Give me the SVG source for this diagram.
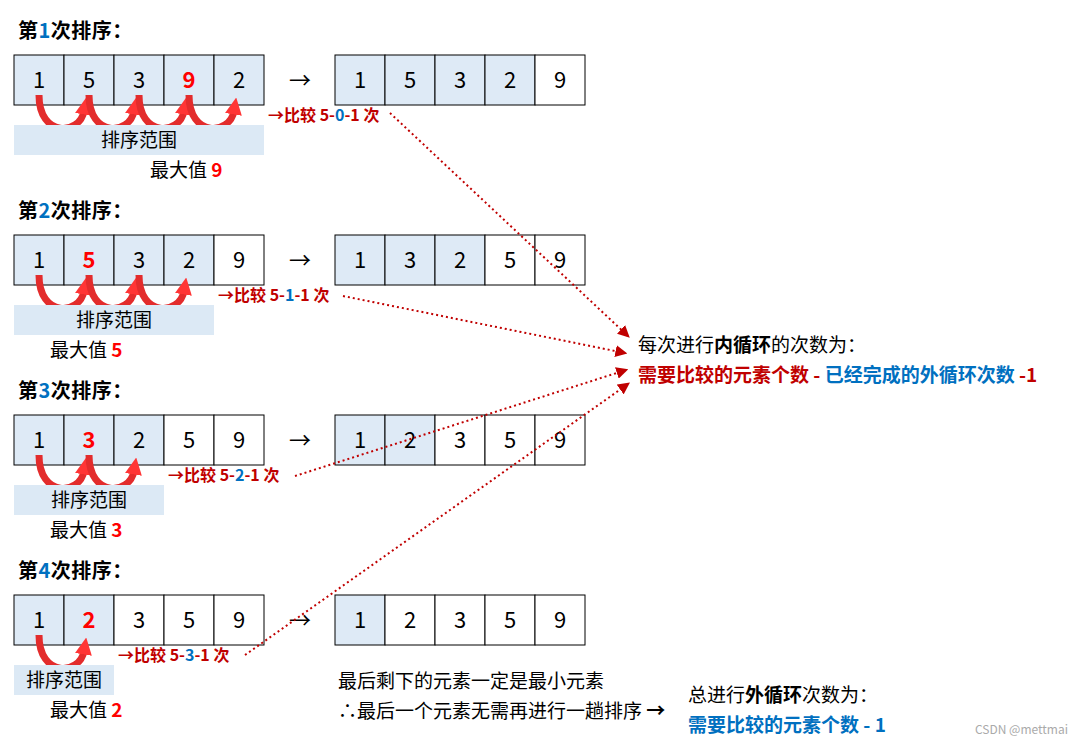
<svg xmlns="http://www.w3.org/2000/svg" width="1081" height="745" viewBox="0 0 1081 745">
<defs>
<style>
text{font-family:"Noto Sans CJK SC","Noto Sans",sans-serif;fill:#000}
.h{font-size:20px;font-weight:bold;letter-spacing:0.5px}
.b{color:#0070c0;fill:#0070c0}
.n{font-size:22px;text-anchor:middle}
.hl{fill:#ff0000;font-weight:bold}
.c{fill:#deeaf6;stroke:#000;stroke-width:1}
.w{fill:#fff;stroke:#000;stroke-width:1}
.bar{fill:#dce9f5}
.t{font-size:19px}
.cmp{font-size:16px;font-weight:bold;fill:#c00000}
.arc{fill:none;stroke:#e32c2c;stroke-width:7;marker-end:url(#ah)}
.dot{fill:none;stroke:#c00000;stroke-width:2;stroke-dasharray:2 3;marker-end:url(#dh)}
</style>
<marker id="ah" viewBox="0 0 10 10" refX="2" refY="5" markerWidth="17" markerHeight="17" orient="auto" markerUnits="userSpaceOnUse"><path d="M0,0L10,5L0,10z" fill="#ff3535"/></marker>
<marker id="dh" viewBox="0 0 10 10" refX="8" refY="5" markerWidth="12" markerHeight="12" orient="auto" markerUnits="userSpaceOnUse"><path d="M0,0L10,5L0,10z" fill="#c00000"/></marker>
</defs>

<g id="row1">
<text class="h" x="18" y="38">第<tspan class="b">1</tspan>次排序：</text>
<rect class="c" x="14" y="55" width="50" height="50"/><rect class="c" x="64" y="55" width="50" height="50"/><rect class="c" x="114" y="55" width="50" height="50"/><rect class="c" x="164" y="55" width="50" height="50"/><rect class="c" x="214" y="55" width="50" height="50"/>
<text class="n" x="39" y="88">1</text><text class="n" x="89" y="88">5</text><text class="n" x="139" y="88">3</text><text class="n hl" x="189" y="88">9</text><text class="n" x="239" y="88">2</text>
<text class="n" x="300" y="88">→</text>
<rect class="c" x="335" y="55" width="50" height="50"/><rect class="c" x="385" y="55" width="50" height="50"/><rect class="c" x="435" y="55" width="50" height="50"/><rect class="c" x="485" y="55" width="50" height="50"/><rect class="w" x="535" y="55" width="50" height="50"/>
<text class="n" x="360" y="88">1</text><text class="n" x="410" y="88">5</text><text class="n" x="460" y="88">3</text><text class="n" x="510" y="88">2</text><text class="n" x="560" y="88">9</text>
<path class="arc" d="M39,95 C39,138 80,135 84,111"/><path class="arc" d="M89,95 C89,138 130,135 134,111"/><path class="arc" d="M139,95 C139,138 180,135 184,111"/><path class="arc" d="M189,95 C189,138 230,135 234,111"/>
<rect class="bar" x="14" y="125" width="250" height="30"/>
<text class="t" x="139" y="147" text-anchor="middle">排序范围</text>
<text class="t" x="150" y="177">最大值 <tspan class="hl">9</tspan></text>
<text class="cmp" x="268" y="121">→比较 5-<tspan class="b">0</tspan>-1 次</text>
</g>

<g id="row2">
<text class="h" x="18" y="218">第<tspan class="b">2</tspan>次排序：</text>
<rect class="c" x="14" y="235" width="50" height="50"/><rect class="c" x="64" y="235" width="50" height="50"/><rect class="c" x="114" y="235" width="50" height="50"/><rect class="c" x="164" y="235" width="50" height="50"/><rect class="w" x="214" y="235" width="50" height="50"/>
<text class="n" x="39" y="268">1</text><text class="n hl" x="89" y="268">5</text><text class="n" x="139" y="268">3</text><text class="n" x="189" y="268">2</text><text class="n" x="239" y="268">9</text>
<text class="n" x="300" y="268">→</text>
<rect class="c" x="335" y="235" width="50" height="50"/><rect class="c" x="385" y="235" width="50" height="50"/><rect class="c" x="435" y="235" width="50" height="50"/><rect class="w" x="485" y="235" width="50" height="50"/><rect class="w" x="535" y="235" width="50" height="50"/>
<text class="n" x="360" y="268">1</text><text class="n" x="410" y="268">3</text><text class="n" x="460" y="268">2</text><text class="n" x="510" y="268">5</text><text class="n" x="560" y="268">9</text>
<path class="arc" d="M39,275 C39,318 80,315 84,291"/><path class="arc" d="M89,275 C89,318 130,315 134,291"/><path class="arc" d="M139,275 C139,318 180,315 184,291"/>
<rect class="bar" x="14" y="305" width="200" height="30"/>
<text class="t" x="114" y="327" text-anchor="middle">排序范围</text>
<text class="t" x="50" y="357">最大值 <tspan class="hl">5</tspan></text>
<text class="cmp" x="218" y="301">→比较 5-<tspan class="b">1</tspan>-1 次</text>
</g>

<g id="row3">
<text class="h" x="18" y="398">第<tspan class="b">3</tspan>次排序：</text>
<rect class="c" x="14" y="415" width="50" height="50"/><rect class="c" x="64" y="415" width="50" height="50"/><rect class="c" x="114" y="415" width="50" height="50"/><rect class="w" x="164" y="415" width="50" height="50"/><rect class="w" x="214" y="415" width="50" height="50"/>
<text class="n" x="39" y="448">1</text><text class="n hl" x="89" y="448">3</text><text class="n" x="139" y="448">2</text><text class="n" x="189" y="448">5</text><text class="n" x="239" y="448">9</text>
<text class="n" x="300" y="448">→</text>
<rect class="c" x="335" y="415" width="50" height="50"/><rect class="c" x="385" y="415" width="50" height="50"/><rect class="w" x="435" y="415" width="50" height="50"/><rect class="w" x="485" y="415" width="50" height="50"/><rect class="w" x="535" y="415" width="50" height="50"/>
<text class="n" x="360" y="448">1</text><text class="n" x="410" y="448">2</text><text class="n" x="460" y="448">3</text><text class="n" x="510" y="448">5</text><text class="n" x="560" y="448">9</text>
<path class="arc" d="M39,455 C39,498 80,495 84,471"/><path class="arc" d="M89,455 C89,498 130,495 134,471"/>
<rect class="bar" x="14" y="485" width="150" height="30"/>
<text class="t" x="89" y="507" text-anchor="middle">排序范围</text>
<text class="t" x="50" y="537">最大值 <tspan class="hl">3</tspan></text>
<text class="cmp" x="168" y="481">→比较 5-<tspan class="b">2</tspan>-1 次</text>
</g>

<g id="row4">
<text class="h" x="18" y="578">第<tspan class="b">4</tspan>次排序：</text>
<rect class="c" x="14" y="595" width="50" height="50"/><rect class="c" x="64" y="595" width="50" height="50"/><rect class="w" x="114" y="595" width="50" height="50"/><rect class="w" x="164" y="595" width="50" height="50"/><rect class="w" x="214" y="595" width="50" height="50"/>
<text class="n" x="39" y="628">1</text><text class="n hl" x="89" y="628">2</text><text class="n" x="139" y="628">3</text><text class="n" x="189" y="628">5</text><text class="n" x="239" y="628">9</text>
<text class="n" x="300" y="628">→</text>
<rect class="c" x="335" y="595" width="50" height="50"/><rect class="w" x="385" y="595" width="50" height="50"/><rect class="w" x="435" y="595" width="50" height="50"/><rect class="w" x="485" y="595" width="50" height="50"/><rect class="w" x="535" y="595" width="50" height="50"/>
<text class="n" x="360" y="628">1</text><text class="n" x="410" y="628">2</text><text class="n" x="460" y="628">3</text><text class="n" x="510" y="628">5</text><text class="n" x="560" y="628">9</text>
<path class="arc" d="M39,635 C39,678 80,675 84,651"/>
<rect class="bar" x="14" y="665" width="100" height="30"/>
<text class="t" x="64" y="687" text-anchor="middle">排序范围</text>
<text class="t" x="50" y="717">最大值 <tspan class="hl">2</tspan></text>
<text class="cmp" x="118" y="661">→比较 5-<tspan class="b">3</tspan>-1 次</text>
</g>

<g id="connectors">
<path class="dot" d="M390,113 L628,336"/>
<path class="dot" d="M343,296 L625,353"/>
<path class="dot" d="M295,476 L626,370"/>
<path class="dot" d="M245,655 L628,384"/>
</g>

<g id="summary">
<text class="t" x="638" y="352">每次进行<tspan font-weight="bold">内循环</tspan>的次数为：</text>
<text class="t" x="638" y="382" font-weight="bold"><tspan fill="#c00000">需要比较的元素个数 - </tspan><tspan class="b">已经完成的外循环次数 </tspan><tspan fill="#c00000">-1</tspan></text>
<text class="t" x="338" y="688">最后剩下的元素一定是最小元素</text>
<text class="t" x="338" y="718">∴最后一个元素无需再进行一趟排序 <tspan font-weight="bold">→</tspan></text>
<text class="t" x="688" y="702">总进行<tspan font-weight="bold">外循环</tspan>次数为：</text>
<text class="t b" x="688" y="732" font-weight="bold">需要比较的元素个数 - 1</text>
<text x="975" y="734" font-size="12" style="fill:#aaa">CSDN @mettmai</text>
</g>
</svg>
